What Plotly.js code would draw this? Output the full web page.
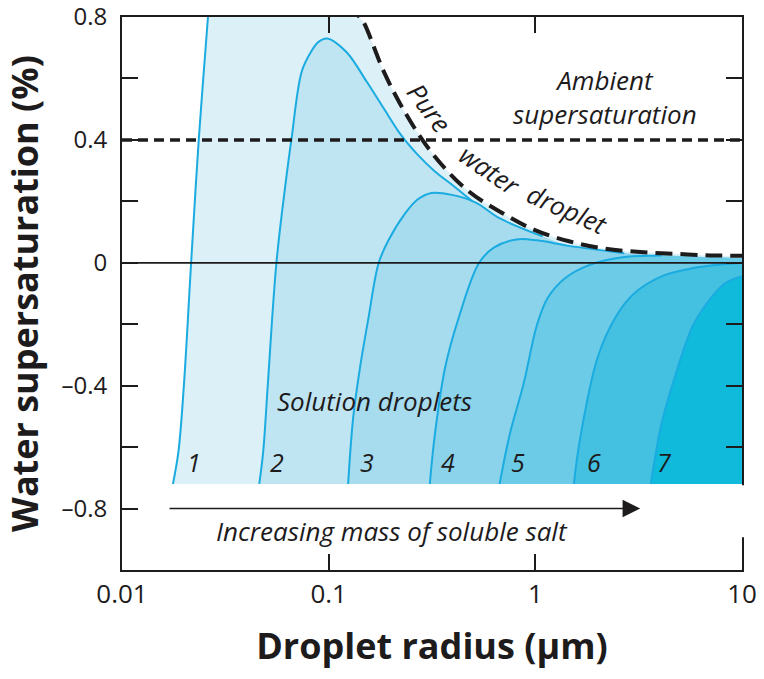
<!DOCTYPE html>
<html><head><meta charset="utf-8">
<script src="https://cdn.plot.ly/plotly-3.0.1.min.js"></script>
<style>html,body{margin:0;padding:0;background:#fff}#chart{width:764px;height:679px}</style>
</head><body><div id="chart"></div>
<script>
// ---- Data: droplet radius (µm) and water supersaturation (%) ----
const curve1R = [0.01764,0.01877,0.01995,0.02160,0.02352,0.02606,0.02639];
const curve1S = [-0.720,-0.612,-0.394,0.000,0.401,0.800,0.850];

const curve2R = [0.04616,0.04826,0.05079,0.05588,0.06236,0.06609,0.07403,0.08204,0.08933,0.0985,0.1218,0.1529,0.1849,0.2237,0.2701,0.3267,0.3951,0.4962];
const curve2S = [-0.720,-0.612,-0.394,0.000,0.276,0.403,0.622,0.686,0.719,0.730,0.686,0.589,0.502,0.416,0.351,0.297,0.254,0.200];

const curve3R = [0.1242,0.1314,0.1418,0.1559,0.1747,0.1957,0.2322,0.2692,0.3147,0.3951,0.5152,0.6714,1.083];
const curve3S = [-0.720,-0.504,-0.341,-0.179,0.000,0.076,0.157,0.206,0.227,0.221,0.196,0.145,0.086];

const curve4R = [0.3086,0.3267,0.3660,0.4259,0.5347,0.6322,0.8120,1.020,1.457,2.692];
const curve4S = [-0.720,-0.558,-0.341,-0.179,0.000,0.050,0.076,0.073,0.055,0.031];

const curve5R = [0.6714,0.7523,0.8765,1.020,1.149,1.401,1.847,2.637,4.076];
const curve5S = [-0.720,-0.558,-0.395,-0.201,-0.114,-0.049,-0.006,0.018,0.024];

const curve6R = [1.537,1.640,2.000,2.435,2.970,4.076,5.821,10];
const curve6S = [-0.720,-0.579,-0.309,-0.179,-0.103,-0.044,-0.017,0.000];

const curve7R = [3.621,4.076,4.774,5.821,7.088,8.311,10];
const curve7S = [-0.720,-0.525,-0.363,-0.201,-0.114,-0.066,-0.044];

// Pure water droplet (dashed)
const pureR = [0.1304,0.1407,0.1473,0.1849,0.2237,0.2808,0.3526,0.4772,0.6714,0.9820,1.457,2.163,3.216,4.774,7.088,10];
const pureS = [0.850,0.800,0.784,0.622,0.513,0.405,0.319,0.232,0.167,0.108,0.070,0.046,0.035,0.029,0.024,0.023];

// Upper edge of the shading along the pure-water curve, after each solution curve ends
const shadeTopR = [0.5152,0.6714,1.083,1.457,2.692,4.076,7.088,10];
const shadeTopS = [0.196,0.145,0.086,0.055,0.031,0.024,0.018,0.015];

const ambientS = 0.4;
const xTickVals = [0.01,0.1,1,10];
const xTickText = ['0.01','0.1','1','10'];
const yTickVals = [-0.8,-0.6,-0.4,-0.2,0,0.2,0.4,0.6,0.8];
const yTickText = ['\u20130.8','','\u20130.4','','0','','0.4','','0.8'];
const curveLabels = ['1','2','3','4','5','6','7'];

// ---- Styles ----
const regionColors = ['#dcf0f7','#c0e5f2','#a6dcee','#8bd3ea','#6ccbe6','#44c0e1','#0fbadb'];
const curveColor = '#1aabe0';
const ink = '#1d1b1c';
const FONT = 'Open Sans, Noto Sans, sans-serif';
const BEYOND = 13; // helper x beyond right edge (clipped)

const curves = [[curve1R,curve1S],[curve2R,curve2S],[curve3R,curve3S],[curve4R,curve4S],[curve5R,curve5S],[curve6R,curve6S],[curve7R,curve7S]];

function region(r, s, useTop) {
  const xs = r.slice(), ys = s.slice();
  if (useTop) {
    const last = r[r.length-1];
    shadeTopR.forEach((v,i)=>{ if (v > last) { xs.push(v); ys.push(shadeTopS[i]); } });
  }
  const endY = ys[ys.length-1];
  xs.push(BEYOND, BEYOND); ys.push(endY, s[0]);
  return {xs, ys};
}

const traces = [];
{
  const xs = curve1R.concat(pureR, [BEYOND, BEYOND]);
  const ys = curve1S.concat(pureS, [pureS[pureS.length-1], curve1S[0]]);
  traces.push({type:'scatter', mode:'lines', x:xs, y:ys, fill:'toself', fillcolor:regionColors[0],
    line:{width:0, shape:'spline', color:regionColors[0]}, hoverinfo:'skip'});
}
for (let k = 1; k < curves.length; k++) {
  const p = region(curves[k][0], curves[k][1], true);
  traces.push({type:'scatter', mode:'lines', x:p.xs, y:p.ys, fill:'toself', fillcolor:regionColors[k],
    line:{width:0, shape:'spline', color:regionColors[k]}, hoverinfo:'skip'});
}
curves.forEach(c => traces.push({type:'scatter', mode:'lines', x:c[0], y:c[1],
  line:{color:curveColor, width:2, shape:'spline'}, hoverinfo:'skip'}));
traces.push({type:'scatter', mode:'lines', x:pureR, y:pureS,
  line:{color:ink, width:4, dash:'17px,8px', shape:'spline'}, hoverinfo:'skip'});

const L = Math.log10;
const it = {family:FONT, size:26, color:ink, style:'italic'};
const itNum = {family:FONT, size:25, color:ink, style:'italic'};
const labelX = [0.02234,0.05628,0.1529,0.3800,0.8279,1.921,4.240];
const annotations = curveLabels.map((t,i)=>({x:L(labelX[i]), y:-0.65, xref:'x', yref:'y', text:t, showarrow:false, font:itNum}));
annotations.push(
  {x:-0.7776, y:-0.4495, xref:'x', yref:'y', text:'Solution droplets', showarrow:false, font:it},
  {x:-0.6935, y:-0.8715, xref:'x', yref:'y', text:'Increasing mass of soluble salt', showarrow:false, font:it},
  {x:0.3387, y:0.539, xref:'x', yref:'y', text:'Ambient<br>supersaturation', showarrow:false, font:it},
  {x:-0.5106, y:0.505, xref:'x', yref:'y', text:'Pure', showarrow:false, font:it, textangle:53},
  {x:-0.219, y:0.303, xref:'x', yref:'y', text:'water', showarrow:false, font:it, textangle:34},
  {x:0.1531, y:0.174, xref:'x', yref:'y', text:'droplet', showarrow:false, font:it, textangle:24},
  {x:L(3.216), y:-0.8, xref:'x', yref:'y', ax:L(0.0167), ay:-0.8, axref:'x', ayref:'y', text:'',
   showarrow:true, arrowhead:2, arrowsize:2.2, arrowwidth:1.6, arrowcolor:ink, standoff:0}
);

const layout = {
  width:764, height:679,
  margin:{l:122, r:22, t:17, b:109},
  paper_bgcolor:'#fff', plot_bgcolor:'#fff',
  showlegend:false, hovermode:false,
  font:{family:FONT, color:ink},
  xaxis:{type:'log', range:[-2,1], tickvals:xTickVals, ticktext:xTickText,
    ticks:'inside', ticklen:16, tickwidth:2, tickcolor:ink,
    showline:true, linewidth:2, linecolor:ink, mirror:'ticks',
    showgrid:false, zeroline:false, tickfont:{family:FONT, size:26, color:ink},
    ticklabelstandoff:0, ticklabeloverflow:'allow',
    title:{text:'Droplet radius (\u03bcm)', font:{family:FONT, size:36, weight:700, color:ink}, standoff:24}},
  yaxis:{range:[-1,0.8], tickvals:yTickVals, ticktext:yTickText,
    ticks:'inside', ticklen:16, tickwidth:2, tickcolor:ink,
    showline:true, linewidth:2, linecolor:ink, mirror:'ticks',
    showgrid:false, zeroline:false, tickfont:{family:FONT, size:24, color:ink},
    ticklabelstandoff:8, ticklabeloverflow:'allow',
    title:{text:'Water supersaturation (%)', font:{family:FONT, size:36, weight:700, color:ink}, standoff:19}},
  shapes:[
    {type:'line', xref:'paper', x0:0, x1:1, yref:'y', y0:0, y1:0, layer:'above', line:{color:ink, width:1.8}},
    {type:'line', xref:'paper', x0:0, x1:1, yref:'y', y0:ambientS, y1:ambientS, layer:'above', line:{color:ink, width:3.5, dash:'10px,6px'}},
    {type:'rect', xref:'paper', x0:0.96, x1:1.02, yref:'y', y0:-0.724, y1:-0.893, layer:'above', fillcolor:'#fff', line:{width:0}}
  ],
  annotations:annotations
};
Plotly.newPlot('chart', traces, layout, {staticPlot:true, displayModeBar:false});
</script></body></html>
